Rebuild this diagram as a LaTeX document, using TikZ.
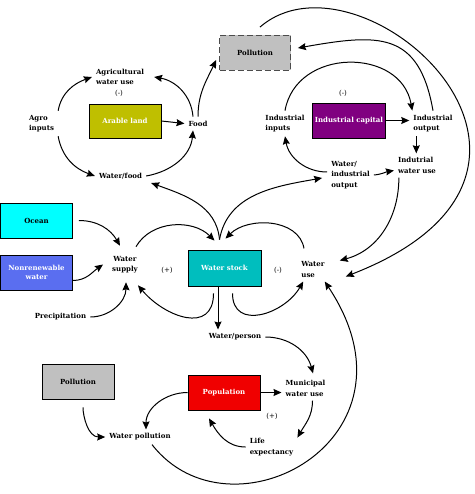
\documentclass[tikz,border=0pt]{standalone}
\usepackage{fontspec}
\setmainfont{DejaVu Serif}
\usepackage{xcolor}
\usepackage{tikz}
\usetikzlibrary{positioning,calc,arrows.meta}
\definecolor{arablecol}{RGB}{191,191,0}
\definecolor{capitalcol}{RGB}{128,0,128}
\definecolor{oceancol}{RGB}{0,255,255}
\definecolor{nonrencol}{RGB}{90,110,240}
\definecolor{stockcol}{RGB}{0,190,190}
\definecolor{popcol}{RGB}{240,0,0}
\definecolor{pollcol}{RGB}{192,192,192}

\begin{document}
\begin{tikzpicture}[x=1pt,y=-1pt,
  boxnode/.style={draw=black,line width=0.8pt,minimum width=72pt,minimum height=35pt,inner sep=2pt,align=center,font=\fontsize{7}{9}\selectfont\bfseries},
  lbl/.style={inner sep=4pt,align=left,font=\fontsize{7}{10.5}\selectfont\bfseries},
  sgn/.style={inner sep=1pt,font=\fontsize{7}{9}\selectfont},
  arr/.style={line width=1pt,-{Stealth[length=8pt,width=7pt,inset=1pt]}}]
  \useasboundingbox (0,0) rectangle (474,494);

  \node[boxnode,fill=pollcol,draw=black!70,dash pattern=on 6pt off 3pt,minimum width=71pt] (polltop) at (255,53) {Pollution};
  \node[boxnode,fill=arablecol,text=white,minimum height=34pt] (arable) at (125,121) {Arable land};
  \node[boxnode,fill=capitalcol,text=white] (indcap) at (349,120.5) {Industrial capital};
  \node[boxnode,fill=oceancol] (ocean) at (36.5,220.5) {Ocean};
  \node[boxnode,fill=nonrencol,text=white] (nonren) at (36.5,272.5) {Nonrenewable\\water};
  \node[boxnode,fill=stockcol,text=white,minimum width=73pt,minimum height=36pt] (stock) at (224.5,268) {Water stock};
  \node[boxnode,fill=popcol,text=white] (population) at (224,392.5) {Population};
  \node[boxnode,fill=pollcol] (pollbot) at (78,381.5) {Pollution};

  \node[lbl] (agwater) at (120,77) {Agricultural\\water use};
  \node[sgn] (minusa) at (119,93) {(-)};
  \node[lbl] (agro) at (41.5,123.5) {Agro\\inputs};
  \node[lbl] (food) at (198,123.5) {Food};
  \node[lbl] (wfood) at (120.5,176) {Water/food};
  \node[lbl] (indin) at (285,123.5) {Industrial\\inputs};
  \node[sgn] (minusb) at (343,93) {(-)};
  \node[lbl] (indout) at (433,123.5) {Industrial\\output};
  \node[lbl] (indwu) at (417,165.5) {Indutrial\\water use};
  \node[lbl] (wio) at (350.5,175) {Water/\\industrial\\output};
  \node[lbl,align=center] (wsupply) at (125,264.5) {Water\\supply};
  \node[sgn] (plusa) at (167,270) {(+)};
  \node[lbl] (precip) at (60.5,317) {Precipitation};
  \node[sgn] (minusc) at (278,270) {(-)};
  \node[lbl] (wuse) at (313,269.5) {Water\\use};
  \node[lbl] (wperson) at (235,337) {Water/person};
  \node[lbl] (muni) at (305.5,388.5) {Municipal\\water use};
  \node[sgn] (plusb) at (272,416) {(+)};
  \node[lbl] (life) at (271.5,447) {Life\\expectancy};
  \node[lbl] (wpoll) at (140,437) {Water pollution};
  \coordinate (stocktop) at ([shift={(-5,-10)}]stock.north);

  \draw[arr] (agro.north east) to[out=80,in=200] (agwater.west);
  \draw[arr] ([xshift=-5pt]food.north) to[out=95,in=-10] ([xshift=6pt]agwater.east);
  \draw[arr] (agro.south east) to[out=-80,in=160] (wfood.west);
  \draw[arr] (wfood.east) to[out=10,in=-95] ([xshift=-5pt]food.south);
  \draw[arr] (arable.east) -- (food.west);
  \draw[arr] (food.north) to[out=90,in=-115] ([shift={(-3,7)}]polltop.west);

  \draw[arr] (indcap.east) -- (indcap.east -| indout.west);
  \draw[arr] (indin.north) to[out=80,in=100,looseness=1.3] ([xshift=3pt]indout.north west);
  \draw[arr] (indout.north) to[out=100,in=10,looseness=1.4] ([shift={(7,-5)}]polltop.east);
  \draw[arr] ([xshift=7pt]indout.south west) -- ([xshift=7pt]indout.south west |- indwu.north);
  \draw[arr] ([yshift=3pt]wio.west) to[out=180,in=-80] (indin.south);
  \draw[arr] (wio.east) to[out=5,in=190] ([yshift=-5pt]indwu.west);
  \draw[arr] ([xshift=5pt]indwu.south west) to[out=-90,in=15] ([shift={(11,-9)}]wuse.east);
  \draw[arr] ([shift={(5,-8)}]polltop.north) .. controls (360,-60) and (620,170) .. ([shift={(17,7)}]wuse.east);

  \draw[arr] ([xshift=6pt]ocean.east) to[out=0,in=120] ([shift={(-5,-6)}]wsupply.north);
  \draw[arr] ([yshift=-8pt]nonren.east) to[out=0,in=-145] ([xshift=-5pt]wsupply.west);
  \draw[arr] (precip.east) to[out=0,in=-90] ([shift={(1,5)}]wsupply.south);
  \draw[arr] ([shift={(-6,-5)}]wsupply.north east) to[out=60,in=135] ([shift={(-5,1)}]stocktop);
  \draw[arr] ([shift={(-11,7)}]stock.south) to[out=-90,in=-50,looseness=1.4] ([shift={(-4,8)}]wsupply.south east);
  \draw[arr] ([shift={(-9,-9)}]wuse.north) to[out=100,in=45] ([shift={(6,-1)}]stocktop);
  \draw[arr] ([shift={(8,7)}]stock.south) to[out=-90,in=-120,looseness=1.35] ([xshift=6pt]wuse.south west);
  \draw[arr] (stocktop) to[out=95,in=-20] ([shift={(5,7)}]wfood.east);
  \draw[arr] (stocktop) to[out=80,in=190] ([shift={(-5,3)}]wio.west);
  \draw[arr] ([xshift=-6.5pt]stock.south) -- ([xshift=-6.5pt]stock.south |- wperson.north);

  \draw[arr] (wperson.east) to[out=0,in=105] ([shift={(7.5,-3)}]muni.north);
  \draw[arr] (population.east) -- (population.east -| muni.west);
  \draw[arr] ([xshift=7pt]muni.south) to[out=-90,in=60] (life.20);
  \draw[arr] (life.west) to[out=180,in=-60] ([shift={(-15,8)}]population.south);
  \draw[arr,shorten <=8pt] ([xshift=5pt]pollbot.south) to[out=-90,in=180] (wpoll.west);
  \draw[arr] (population.west) to[out=180,in=90] ([xshift=6pt]wpoll.north);
  \draw[arr] ([xshift=12pt]wpoll.south) .. controls (230,545) and (430,440) .. ([xshift=-4pt]wuse.south east);
\end{tikzpicture}
\end{document}
